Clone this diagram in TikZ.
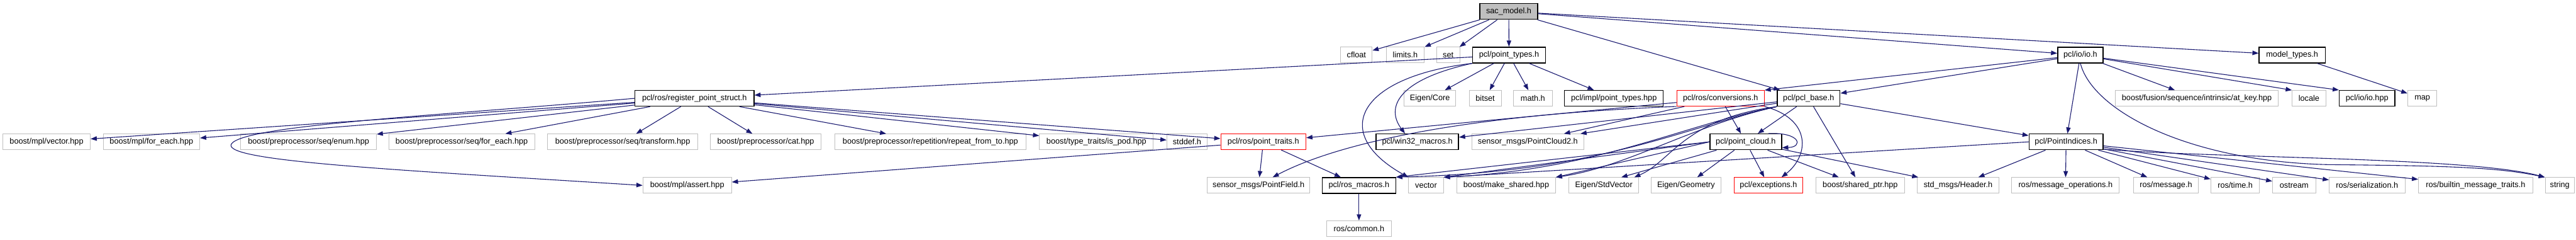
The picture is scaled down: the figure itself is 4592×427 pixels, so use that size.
\documentclass[tikz,border=0pt]{standalone}
\usepackage{fontspec}
\setmainfont{Liberation Sans}
\usetikzlibrary{arrows.meta}
\definecolor{edgeblue}{HTML}{191970}
\definecolor{boxgray}{HTML}{BFBFBF}
\newcommand{\filefont}{\fontsize{8.1}{9.7}\selectfont}

\begin{document}
\begin{tikzpicture}[
  x=0.2mm, y=0.2mm,
  hdr/.style     = {rectangle, draw=boxgray, line width=0.6pt, minimum height=5.6mm,
                    inner sep=0pt, font=\filefont},
  dochdr/.style  = {hdr, draw=black, line width=0.9pt},
  redhdr/.style  = {hdr, draw=red},
  mainhdr/.style = {dochdr, fill=boxgray},
  bw/.style      = {minimum width=#1*0.2mm},
  arr/.style     = {-{Triangle[length=2.2mm, width=1.6mm]}, draw=edgeblue, line width=0.7pt},
]
\useasboundingbox (0,0) rectangle (4592,427);

\node[mainhdr, bw=103] (sac) at (2689.5,406.5) {sac\_model.h};

\node[hdr, bw=56]     (cfloat) at (2418,329)   {cfloat};
\node[hdr, bw=68]     (limits) at (2505,329)   {limits.h};
\node[hdr, bw=41]     (stdset) at (2581.5,329) {set};
\node[dochdr, bw=130] (ptypes) at (2690,329)   {pcl/point\_types.h};
\node[dochdr, bw=81]  (ioh)    at (3708.5,329) {pcl/io/io.h};
\node[dochdr, bw=118] (mtypes) at (4086,329)   {model\_types.h};

\node[dochdr, bw=212] (regps)     at (1238,252)   {pcl/ros/register\_point\_struct.h};
\node[hdr, bw=92]     (eicore)    at (2549,252)   {Eigen/Core};
\node[hdr, bw=57]     (stdbitset) at (2647.5,252) {bitset};
\node[hdr, bw=69]     (mathh)     at (2732.5,252) {math.h};
\node[dochdr, bw=176] (ptypeshpp) at (2877,252)   {pcl/impl/point\_types.hpp};
\node[redhdr, bw=156] (conv)      at (3067,252)   {pcl/ros/conversions.h};
\node[dochdr, bw=112] (pclbase)   at (3224,252)   {pcl/pcl\_base.h};
\node[hdr, bw=290]    (atkey)     at (3916,252)   {boost/fusion/sequence/intrinsic/at\_key.hpp};
\node[hdr, bw=60]     (stdlocale) at (4116,252)   {locale};
\node[dochdr, bw=99]  (iohpp)     at (4219.5,252) {pcl/io/io.hpp};
\node[hdr, bw=52]     (stdmap)    at (4318,252)   {map};

\node[hdr, bw=156]    (mplvec)   at (83,174.5)     {boost/mpl/vector.hpp};
\node[hdr, bw=172]    (mplfor)   at (270,174.5)    {boost/mpl/for\_each.hpp};
\node[hdr, bw=242]    (seqenum)  at (550,174.5)    {boost/preprocessor/seq/enum.hpp};
\node[hdr, bw=260]    (seqfor)   at (823,174.5)    {boost/preprocessor/seq/for\_each.hpp};
\node[hdr, bw=268]    (seqtrans) at (1110,174.5)   {boost/preprocessor/seq/transform.hpp};
\node[hdr, bw=198]    (ppcat)    at (1365,174.5)   {boost/preprocessor/cat.hpp};
\node[hdr, bw=341]    (pprepeat) at (1658.5,174.5) {boost/preprocessor/repetition/repeat\_from\_to.hpp};
\node[hdr, bw=203]    (ispod)    at (1954.5,174.5) {boost/type\_traits/is\_pod.hpp};
\node[hdr, bw=72]     (stddef)   at (2116,174.5)   {stddef.h};
\node[redhdr, bw=152] (ptraits)  at (2252,174.5)   {pcl/ros/point\_traits.h};
\node[dochdr, bw=147] (win32)    at (2526.5,174.5) {pcl/win32\_macros.h};
\node[hdr, bw=199]    (pctwo)    at (2723.5,174.5) {sensor\_msgs/PointCloud2.h};
\node[dochdr, bw=128] (pcloud)   at (3112,174.5)   {pcl/point\_cloud.h};
\node[dochdr, bw=132] (pidx)     at (3683,174.5)   {pcl/PointIndices.h};

\node[hdr, bw=158]    (mplassert)  at (1225,97)   {boost/mpl/assert.hpp};
\node[hdr, bw=183]    (pfield)     at (2243.5,97) {sensor\_msgs/PointField.h};
\node[dochdr, bw=131] (rosmac)     at (2422.5,97) {pcl/ros\_macros.h};
\node[hdr, bw=62]     (stdvector)  at (2542,97)   {vector};
\node[hdr, bw=176]    (mkshared)   at (2685,97)   {boost/make\_shared.hpp};
\node[hdr, bw=124]    (stdvec)     at (2859,97)   {Eigen/StdVector};
\node[hdr, bw=125]    (eigeo)      at (3005.5,97) {Eigen/Geometry};
\node[redhdr, bw=123] (except)     at (3152.5,97) {pcl/exceptions.h};
\node[hdr, bw=158]    (shptr)      at (3316,97)   {boost/shared\_ptr.hpp};
\node[hdr, bw=145]    (header)     at (3490.5,97) {std\_msgs/Header.h};
\node[hdr, bw=192]    (msgops)     at (3682,97)   {ros/message\_operations.h};
\node[hdr, bw=116]    (message)    at (3861,97)   {ros/message.h};
\node[hdr, bw=87]     (rostime)    at (3984.5,97) {ros/time.h};
\node[hdr, bw=77]     (stdostream) at (4089.5,97) {ostream};
\node[hdr, bw=135]    (serial)     at (4219.5,97) {ros/serialization.h};
\node[hdr, bw=204]    (builtin)    at (4413,97)   {ros/builtin\_message\_traits.h};
\node[hdr, bw=52]     (stdstring)  at (4563,97)   {string};

\node[hdr, bw=115] (roscommon) at (2422.5,20) {ros/common.h};

\draw[arr] (sac) -- (cfloat);
\draw[arr] (sac) -- (limits);
\draw[arr] (sac) -- (stdset);
\draw[arr] (sac) -- (ptypes);
\draw[arr] (sac) -- (pclbase);
\draw[arr] (sac) -- (ioh);
\draw[arr] (sac) -- (mtypes);

\draw[arr] (ptypes) -- (regps);
\draw[arr] (ptypes.south west) .. controls (2490,285) and (2470,235) .. (win32.146);
\draw[arr] (ptypes.south west) .. controls (2420,290) and (2370,190) .. (stdvector.north west);
\draw[arr] (ptypes) -- (eicore);
\draw[arr] (ptypes) -- (stdbitset);
\draw[arr] (ptypes) -- (mathh);
\draw[arr] (ptypes) -- (ptypeshpp);

\draw[arr] (regps) -- (mplvec);
\draw[arr] (regps) -- (mplfor);
\draw[arr] (regps.west) .. controls (800,222) and (430,205) .. (412,170)
           .. controls (400,140) and (700,125) .. (mplassert.west);
\draw[arr] (regps) -- (seqenum);
\draw[arr] (regps) -- (seqfor);
\draw[arr] (regps) -- (seqtrans);
\draw[arr] (regps) -- (ppcat);
\draw[arr] (regps) -- (pprepeat);
\draw[arr] (regps) -- (ispod);
\draw[arr] (regps) -- (stddef);
\draw[arr] (regps) -- (ptraits);

\draw[arr] (ptraits) -- (mplassert);
\draw[arr] (ptraits) -- (pfield);
\draw[arr] (ptraits) -- (rosmac);

\draw[arr] (conv) -- (ptraits);
\draw[arr] (conv.south west) .. controls (2600,222) and (2380,170) .. (pfield.30);
\draw[arr] (conv) -- (pctwo);
\draw[arr] (conv) -- (pcloud);
\draw[arr] (conv.south east) .. controls (3230,215) and (3225,150) .. (except.32);

\draw[arr] (pclbase) -- (win32);
\draw[arr] (pclbase) -- (pctwo);
\draw[arr] (pclbase.south west) .. controls (3000,200) and (2850,120) .. (rosmac.north east);
\draw[arr] (pclbase.south west) .. controls (3000,205) and (2850,125) .. (stdvector.north east);
\draw[arr] (pclbase.south west) .. controls (3020,205) and (2900,130) .. (mkshared.north east);
\draw[arr] (pclbase.south west) .. controls (3000,215) and (2980,140) .. (stdvec.15);
\draw[arr] (pclbase) -- (pcloud);
\draw[arr] (pclbase) -- (shptr);
\draw[arr] (pclbase) -- (pidx);

\draw[arr] (pcloud.west) -- (rosmac.north east);
\draw[arr] (pcloud.west) -- (stdvector.north east);
\draw[arr] (pcloud.west) -- (mkshared.north east);
\draw[arr] (pcloud) -- (stdvec.25);
\draw[arr] (pcloud) -- (eigeo);
\draw[arr] (pcloud) -- (except);
\draw[arr] (pcloud) -- (shptr);
\draw[arr] (pcloud) -- (header);
\draw[arr] (pcloud.20) .. controls (3210,192) and (3215,165) .. (pcloud.-9);

\draw[arr] (pidx.west) -- (stdvector.north east);
\draw[arr] (pidx) -- (header);
\draw[arr] (pidx) -- (msgops);
\draw[arr] (pidx) -- (message);
\draw[arr] (pidx) -- (rostime);
\draw[arr] (pidx) -- (stdostream);
\draw[arr] (pidx) -- (serial);
\draw[arr] (pidx) -- (builtin);
\draw[arr] (pidx.-11) .. controls (3950,145) and (4400,148) .. (stdstring.north west);

\draw[arr] (ioh) -- (conv.north east);
\draw[arr] (ioh) -- (pclbase);
\draw[arr] (ioh) -- (pidx);
\draw[arr] (ioh) -- (atkey);
\draw[arr] (ioh) -- (stdlocale.north west);
\draw[arr] (ioh) -- (iohpp.north west);
\draw[arr] (ioh.south) .. controls (3730,230) and (3900,140) .. (4150,134)
           .. controls (4350,132) and (4450,130) .. (stdstring.north west);

\draw[arr] (mtypes) -- (stdmap);
\draw[arr] (rosmac) -- (roscommon);

\end{tikzpicture}
\end{document}
